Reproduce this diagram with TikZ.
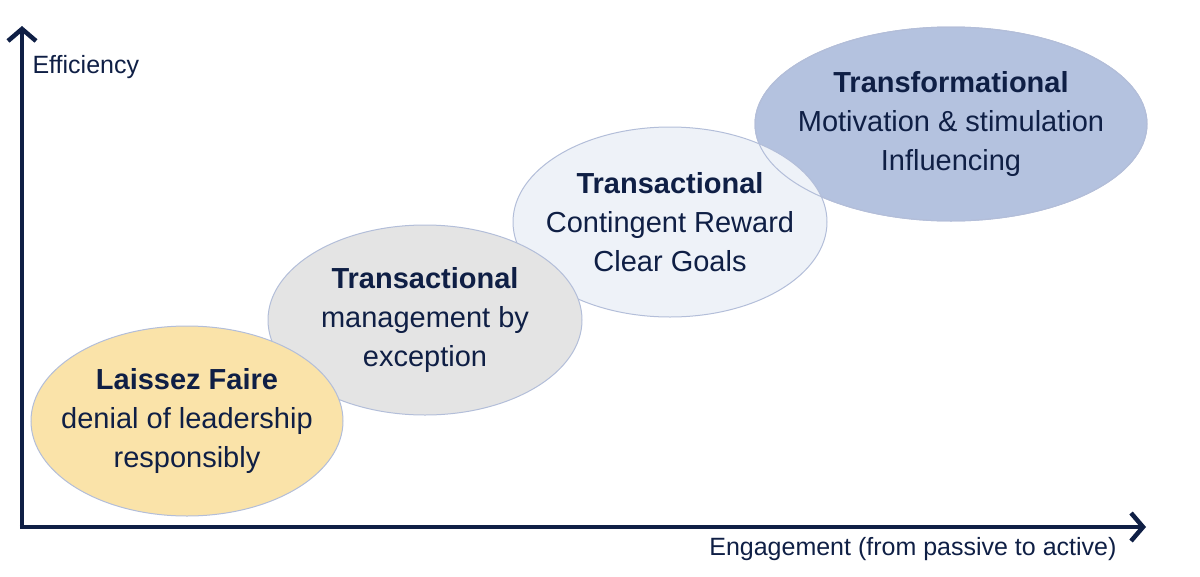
\documentclass[tikz,border=0pt]{standalone}
\usepackage{fontspec}
\setmainfont{Liberation Sans}
\usetikzlibrary{arrows.meta}
\definecolor{navy}{HTML}{0F1F45}
\definecolor{edge}{HTML}{B3BED9}
\definecolor{cyel}{HTML}{FAE3A9}
\definecolor{cgry}{HTML}{E4E4E4}
\definecolor{clgt}{HTML}{EEF2F8}
\definecolor{cblu}{HTML}{B4C2DF}
\begin{document}
\begin{tikzpicture}[x=1pt,y=-1pt,
  ell/.style={draw=edge,line width=1pt},
  lbl/.style={align=center,text=navy,font=\fontsize{29}{39}\selectfont},
  axis/.style={draw=navy,line width=4.5pt,-{Straight Barb[length=12pt,width=28pt,line width=4.5pt]}},
  axl/.style={text=navy,font=\fontsize{25}{30}\selectfont}]
\useasboundingbox (0,0) rectangle (1200,576);
\fill[ell,fill=cblu] (951,124) ellipse [x radius=196,y radius=97];
\fill[ell,fill=clgt] (670,222) ellipse [x radius=157,y radius=95];
\fill[ell,fill=cgry] (425,320) ellipse [x radius=157,y radius=95];
\fill[ell,fill=cyel] (187,421) ellipse [x radius=156,y radius=95];
\draw[ell] (951,124) ellipse [x radius=196,y radius=97];
\node[lbl] (t3) at (951,124) {\textbf{Transformational}\\Motivation \& stimulation\\Influencing};
\node[lbl] (t2) at (670,222) {\textbf{Transactional}\\Contingent Reward\\Clear Goals};
\node[lbl] (t1) at (425,320) {\textbf{Transactional}\\management by\\exception};
\node[lbl] (t0) at (187,421) {\textbf{Laissez Faire}\\denial of leadership\\responsibly};
\coordinate (o) at (22,527);
\coordinate (ytop) at (22,26);
\coordinate (xend) at (1146,527);
\draw[axis] (o) -- (ytop);
\draw[axis] ([xshift=-2.25pt]o) -- (xend);
\node[axl,anchor=west] (ylab) at (29,67) {Efficiency};
\node[axl,anchor=east] (xlab) at (1120,549) {Engagement (from passive to active)};
\end{tikzpicture}
\end{document}
